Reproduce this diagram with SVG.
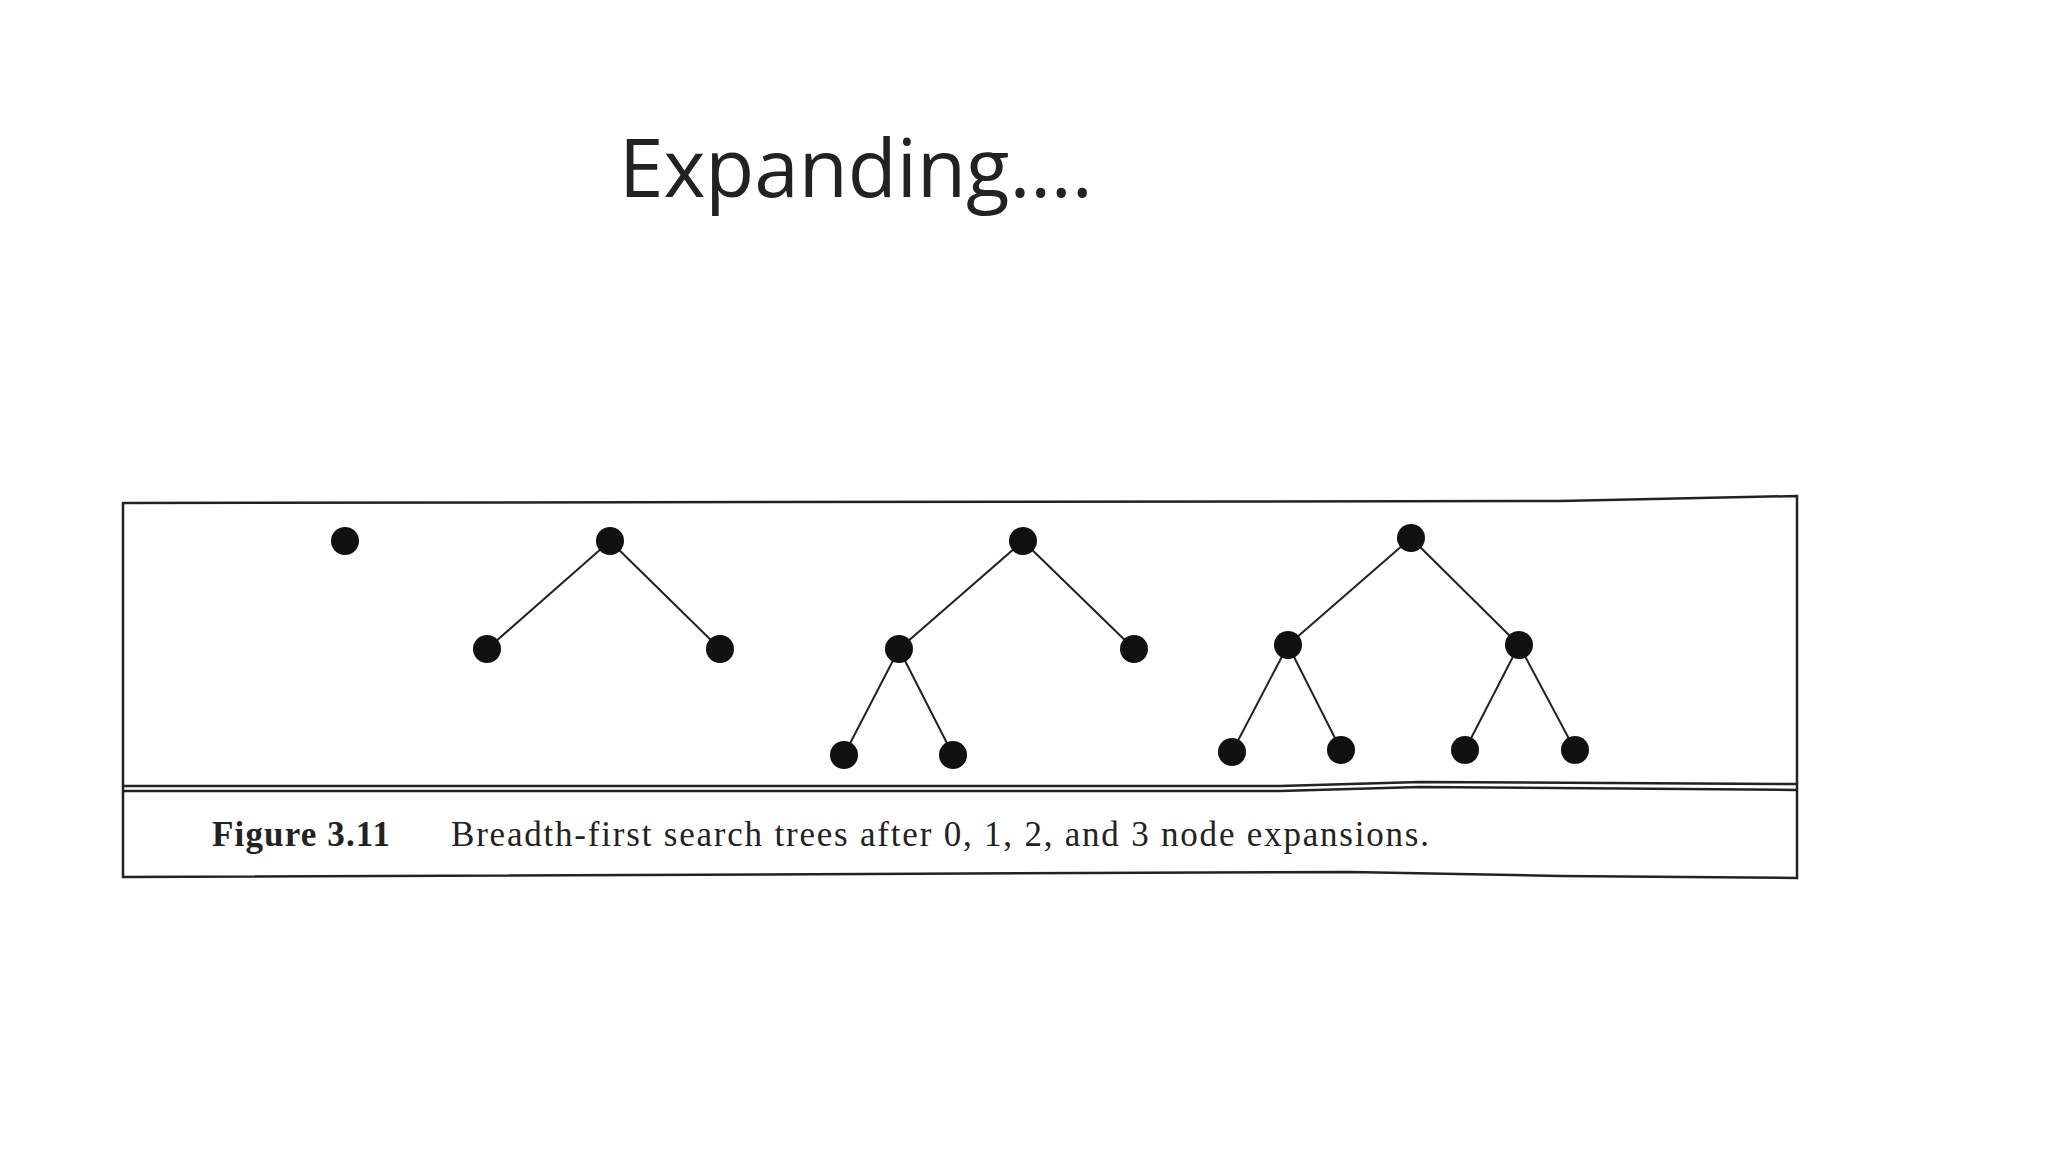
<svg xmlns="http://www.w3.org/2000/svg" width="2048" height="1152" viewBox="0 0 2048 1152">
<style>
.n{fill:#111}
.e{stroke:#222;stroke-width:2;fill:none}
.cap{font-family:"Liberation Serif",serif;font-size:35px;fill:#222}
</style>
<rect width="2048" height="1152" fill="#fff"/>
<text x="619" y="197" font-family="Open Sans, sans-serif" font-size="80" fill="#222">Expanding….</text>
<g id="frame" fill="none" stroke="#222" stroke-width="2.5">
<path d="M123 503 L1560 501 L1797 496 L1797 878 L1560 876 L1350 872 L123 877 Z"/>
<path d="M123 786 L1280 786 L1420 782 L1797 784"/>
<path d="M123 791 L1280 791 L1420 787 L1797 790"/>
</g>
<g id="connectors">
<path class="e" d="M610 541L487 649M610 541L720 649M1023 541L899 649M1023 541L1134 649M899 649L844 755M899 649L953 755M1411 538L1288 645M1411 538L1519 645M1288 645L1232 752M1288 645L1341 750M1519 645L1465 750M1519 645L1575 750"/>
</g>
<g id="n1"><circle class="n" cx="345" cy="541" r="14"/></g>
<g id="n2"><circle class="n" cx="610" cy="541" r="14"/></g>
<g id="n3"><circle class="n" cx="487" cy="649" r="14"/></g>
<g id="n4"><circle class="n" cx="720" cy="649" r="14"/></g>
<g id="n5"><circle class="n" cx="1023" cy="541" r="14"/></g>
<g id="n6"><circle class="n" cx="899" cy="649" r="14"/></g>
<g id="n7"><circle class="n" cx="1134" cy="649" r="14"/></g>
<g id="n8"><circle class="n" cx="844" cy="755" r="14"/></g>
<g id="n9"><circle class="n" cx="953" cy="755" r="14"/></g>
<g id="n10"><circle class="n" cx="1411" cy="538" r="14"/></g>
<g id="n11"><circle class="n" cx="1288" cy="645" r="14"/></g>
<g id="n12"><circle class="n" cx="1519" cy="645" r="14"/></g>
<g id="n13"><circle class="n" cx="1232" cy="752" r="14"/></g>
<g id="n14"><circle class="n" cx="1341" cy="750" r="14"/></g>
<g id="n15"><circle class="n" cx="1465" cy="750" r="14"/></g>
<g id="n16"><circle class="n" cx="1575" cy="750" r="14"/></g>
<g id="caption">
<text class="cap" x="212" y="846" font-weight="bold" textLength="178">Figure 3.11</text>
<text class="cap" x="451" y="846" textLength="978">Breadth-first search trees after 0, 1, 2, and 3 node expansions.</text>
</g>
</svg>
